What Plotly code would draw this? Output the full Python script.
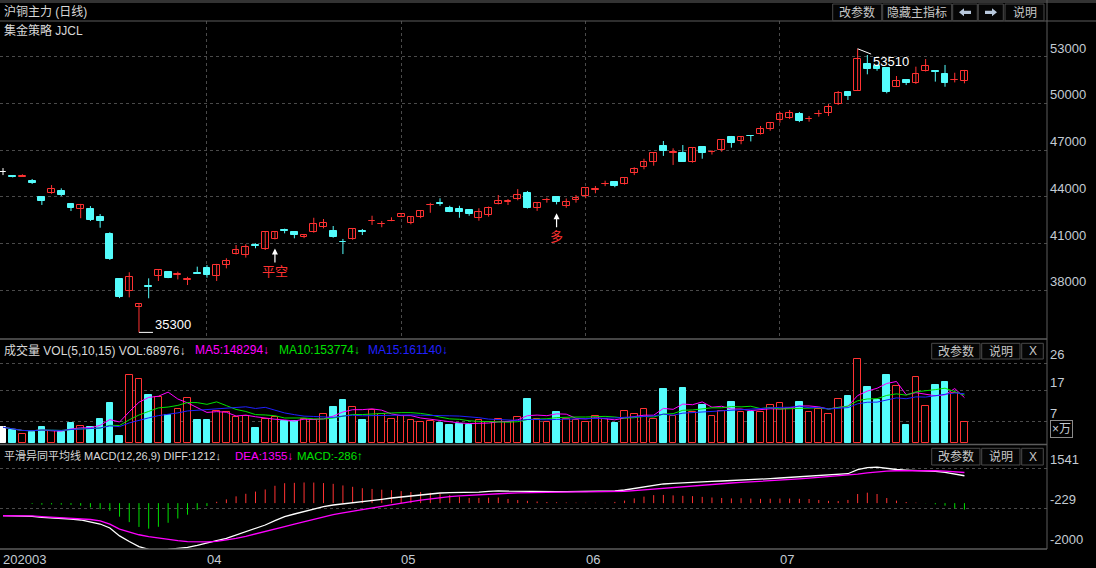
import plotly.graph_objects as go
import pandas as pd

W, H = 1096, 568
def px(x): return x / W
def py(y): return 1 - y / H

# ---------------- data ----------------
open_ = [45600,45360,45300,45010,43970,44230,44380,43540,43200,43200,
 42730,41620,38710,37980,36910,38250,38920,39180,39000,38650,
 39090,39420,38940,39630,40315,40270,40880,40640,41280,41880,
 41720,41405,41765,42067,41810,41130,41280,41800,42440,42230,
 42450,42730,42340,42730,43450,43600,43270,43240,43160,42625,
 42840,43540,43680,43850,44230,43270,43780,44000,43440,43800,
 44080,44450,44800,44970,44800,45510,45900,46260,47270,46830,
 46800,46260,47180,46880,47010,47830,47610,47900,48050,48360,
 48930,49045,49320,48980,49300,49370,49940,50750,50820,52530,
 52400,52250,51080,51500,51290,52100,52070,51890,51480,51460]
high = [45850,45400,45450,45150,44000,44760,44550,43600,43550,43410,
 42900,41730,38750,39160,37150,38770,39350,39200,39200,38870,
 39520,39620,39700,40060,40910,40960,41020,41800,41780,41960,
 41800,41600,42660,42580,42130,41300,42000,41940,42790,42450,
 42690,42950,42720,43120,43620,43910,43430,43430,43200,43270,
 43380,44120,43860,44500,44380,43650,43950,44010,43900,44120,
 44600,44700,45040,45000,45200,45900,46450,46850,47590,47120,
 47330,47200,47250,47000,47650,47910,47850,47920,48550,48800,
 49450,49580,49450,49190,49580,49960,50800,50800,53510,53110,
 52500,52280,51760,51530,52360,52850,52100,52470,51970,52150]
low = [45400,45250,45280,44830,43480,44200,44050,43090,42630,42450,
 42020,39950,37500,37550,35300,37490,38600,38780,38700,38340,
 39080,38810,38600,39410,40300,40100,40700,40590,41270,41660,
 41340,41350,41700,41980,41380,40330,41250,41550,42200,42050,
 42440,42700,42240,42630,42980,43430,43020,42660,42790,42470,
 42730,43520,43480,43780,43250,43100,43630,43520,43300,43630,
 43910,44230,44690,44620,44790,45400,45770,46000,46630,46050,
 46250,46200,46450,46720,46900,47160,47380,47560,48000,48250,
 48760,49000,48800,48830,49150,49190,49900,50220,50800,51870,
 52100,50650,51050,51180,51250,52050,51400,51070,51350,51290]
close = [45600,45300,45360,44910,43760,44500,44120,43310,43480,42520,
 42470,39990,37550,38880,37120,38230,39300,38810,39050,38700,
 39080,38990,39630,39880,40590,40760,40840,41760,41760,41800,
 41580,41550,42240,42320,41420,41100,41940,41760,42470,42250,
 42470,42900,42690,43090,43480,43560,43050,43050,42900,43050,
 43270,43750,43690,44120,43270,43630,43800,43650,43690,43950,
 44550,44480,44830,44690,45190,45790,46220,46800,46950,46860,
 46260,47120,46800,46900,47630,47480,47820,47880,48360,48760,
 49320,49400,48890,49000,49320,49760,50690,50500,52830,52190,
 52190,50710,51460,51330,51890,52400,51990,51290,51510,52100]
volume = [52000,43000,30000,38000,52000,40000,37000,65000,56000,54000,
 78000,132000,25000,222000,208000,156000,151000,92000,110000,146000,
 76000,76000,105000,100000,85000,90000,50000,80000,85000,73000,
 73000,80000,75000,95000,117000,140000,117000,76000,108000,95000,
 80000,90000,75000,70000,72000,65000,60000,63000,60000,75000,
 70000,80000,70000,85000,142000,80000,70000,100000,80000,75000,
 70000,90000,80000,65000,105000,95000,110000,80000,175000,90000,
 180000,100000,125000,90000,105000,135000,100000,100000,100000,125000,
 130000,115000,135000,100000,110000,95000,142000,153000,273000,183000,
 140000,220000,185000,59000,216000,120000,189000,200000,162000,68976]
diff = [-555,-555,-555,-584,-629,-643,-673,-702,-746,-820,
 -924,-1100,-1450,-1700,-1927,-2045,-2074,-2045,-2000,-1956,
 -1868,-1779,-1661,-1558,-1410,-1263,-1115,-968,-776,-599,
 -481,-363,-245,-156,-83,-39,6,50,109,168,
 227,271,316,375,419,448,463,463,463,490,
 520,545,530,520,515,510,507,507,507,507,
 507,507,507,537,581,655,729,802,847,876,
 906,935,950,965,979,994,1024,1038,1053,1083,
 1112,1142,1171,1201,1215,1230,1260,1301,1484,1571,
 1593,1532,1487,1464,1451,1436,1407,1363,1276,1212]
dea = [-558,-558,-555,-568,-595,-615,-640,-665,-690,-725,
 -790,-930,-1150,-1280,-1400,-1480,-1550,-1610,-1660,-1700,
 -1720,-1715,-1690,-1640,-1560,-1470,-1370,-1270,-1160,-1040,
 -930,-820,-700,-600,-510,-430,-355,-280,-205,-130,
 -60,5,70,130,190,240,285,320,350,375,
 398,420,438,452,464,474,482,488,493,496,
 498,500,502,510,525,550,585,625,665,705,
 745,780,812,840,865,890,915,937,958,985,
 1010,1040,1075,1110,1145,1180,1214,1231,1282,1340,
 1391,1419,1432,1439,1441,1440,1433,1419,1391,1355]

month_labels = ["202003", "04", "05", "06", "07"]
month_start = [0, 21, 41, 60, 80]
price_ticks = [53000, 50000, 47000, 44000, 41000, 38000]
vol_ticks = [26, 17, 7]
macd_ticks = [1541, -229, -2000]
low_mark_idx, high_mark_idx = 14, 88
signals = [(28, "平空"), (57, "多")]

# ---------------- styles ----------------
RED = "#ff3232"; CYAN = "#54fcfc"; WHITE = "#ffffff"
GREEN = "#00e000"; MAG = "#ff00ff"; BLUE = "#2020ff"
GRID = "#4a4a4a"; SEP = "#5c5c5c"; TXT = "#d8d8d8"; AX = "#c4ccd4"
FONT = "Liberation Sans, Noto Sans CJK SC, sans-serif"

n = len(close)
idx = list(range(n))
kind = ['up' if c > o else ('down' if c < o else 'flat') for o, c in zip(open_, close)]
col = {'up': RED, 'down': CYAN, 'flat': WHITE}
fill = {'up': '#000000', 'down': CYAN, 'flat': WHITE}

fig = go.Figure()

# candles
for k in ['up', 'down', 'flat']:
    ii = [i for i in idx if kind[i] == k]
    wx, wy = [], []
    for i in ii:
        wx += [i, i, None]; wy += [low[i], high[i], None]
    fig.add_trace(go.Scatter(x=wx, y=wy, mode='lines', line=dict(color=col[k], width=1),
                             hoverinfo='skip', xaxis='x', yaxis='y'))
    fig.add_trace(go.Bar(x=ii, y=[max(abs(close[i] - open_[i]), 25) for i in ii],
                         base=[min(open_[i], close[i]) for i in ii], width=0.7,
                         marker=dict(color=fill[k], line=dict(color=col[k], width=1)),
                         xaxis='x', yaxis='y'))

# volume
vol_w = [v / 10000 for v in volume]
for k in ['up', 'down', 'flat']:
    ii = [i for i in idx if kind[i] == k]
    fig.add_trace(go.Bar(x=ii, y=[vol_w[i] for i in ii], width=0.68,
                         marker=dict(color=fill[k], line=dict(color=col[k], width=1)),
                         xaxis='x2', yaxis='y2'))
vs = pd.Series(vol_w)
for win, c in [(5, MAG), (10, GREEN), (15, BLUE)]:
    fig.add_trace(go.Scatter(x=idx, y=vs.rolling(win, min_periods=1).mean(), mode='lines',
                             line=dict(color=c, width=1), xaxis='x2', yaxis='y2'))

# MACD
macd = [2 * (d - e) for d, e in zip(diff, dea)]
for sign, c in [(1, RED), (-1, GREEN)]:
    bx, by = [], []
    for i in idx:
        if macd[i] * sign > 0:
            bx += [i, i, None]; by += [0, macd[i], None]
    fig.add_trace(go.Scatter(x=bx, y=by, mode='lines', line=dict(color=c, width=1),
                             xaxis='x3', yaxis='y3'))
fig.add_trace(go.Scatter(x=idx, y=diff, mode='lines', line=dict(color=WHITE, width=1.3),
                         xaxis='x3', yaxis='y3'))
fig.add_trace(go.Scatter(x=idx, y=dea, mode='lines', line=dict(color=MAG, width=1.3),
                         xaxis='x3', yaxis='y3'))

xr = [-0.31, 107.5]
xdom = [0, px(1047)]
common_x = dict(range=xr, showticklabels=False, zeroline=False, showline=False, fixedrange=True)
def yax(dom, rng, ticks):
    return dict(domain=dom, range=rng, tickvals=ticks, showticklabels=False, showgrid=True,
                gridcolor=GRID, griddash='dot', gridwidth=1, zeroline=False, showline=False)

fig.update_layout(
    width=W, height=H, margin=dict(l=0, r=0, t=0, b=0),
    paper_bgcolor='#000000', plot_bgcolor='#000000', showlegend=False,
    barmode='overlay', hovermode=False, bargap=0,
    xaxis=dict(domain=xdom, anchor='y', tickvals=month_start[1:], showgrid=True,
               gridcolor=GRID, griddash='dot', **common_x),
    xaxis2=dict(domain=xdom, anchor='y2', showgrid=False, **common_x),
    xaxis3=dict(domain=xdom, anchor='y3', showgrid=False, **common_x),
    yaxis=dict(anchor='x', **yax([py(338), py(21)], [34940, 55292], price_ticks)),
    yaxis2=dict(anchor='x2', **yax([py(443.5), py(340)], [-0.06, 33.45], vol_ticks)),
    yaxis3=dict(anchor='x3', **yax([py(549), py(445.5)], [-2030, 2550], macd_ticks)),
)

shapes = []
ann = []
def pline(x0, y0, x1, y1, color=SEP, w=1):
    shapes.append(dict(type='line', xref='paper', yref='paper', x0=px(x0), y0=py(y0),
                       x1=px(x1), y1=py(y1), line=dict(color=color, width=w)))
def ptext(x, y, text, color=TXT, size=12, xanchor='left', **kw):
    ann.append(dict(xref='paper', yref='paper', x=px(x), y=py(y), text=text, showarrow=False,
                    xanchor=xanchor, yanchor='middle', font=dict(family=FONT, size=size, color=color), **kw))
def button(x0, x1, y0, y1, text):
    shapes.append(dict(type='rect', xref='paper', yref='paper', x0=px(x0), y0=py(y1),
                       x1=px(x1), y1=py(y0), line=dict(color='#4a4a4a', width=1), fillcolor='#050505'))
    if text:
        ptext((x0 + x1) / 2, (y0 + y1) / 2, text, color='#c8c8c8', size=12, xanchor='center')

# frame lines
shapes.append(dict(type='rect', xref='paper', yref='paper', x0=0, x1=1, y0=py(3), y1=1,
                   line=dict(width=0), fillcolor='#333333'))
pline(0, 21, W, 21)
pline(0, 339, 1047, 339, w=1.5)
pline(0, 444.5, 1047, 444.5, w=1.5)
pline(0, 549, 1047, 549, w=1.5)
pline(1047, 0, 1047, 549)

# headers
ptext(2, 11, "沪铜主力 (日线)", size=12)
ptext(2, 30, "集金策略 JJCL", size=12)
button(832.7, 881.7, 4, 20.7, "改参数")
button(882.7, 951.7, 4, 20.7, "隐藏主指标")
button(952.7, 977.3, 4, 20.7, "")
button(978.3, 1003.3, 4, 20.7, "")
button(1005, 1044, 4, 20.7, "说明")
def arrow_path(cx, cy, d):
    pts = [(cx - 6 * d, cy), (cx - 1 * d, cy - 4), (cx - 1 * d, cy - 1.6), (cx + 6 * d, cy - 1.6),
           (cx + 6 * d, cy + 1.6), (cx - 1 * d, cy + 1.6), (cx - 1 * d, cy + 4)]
    return "M " + " L ".join(f"{px(a):.5f},{py(b):.5f}" for a, b in pts) + " Z"
for cx, d in [(965, 1), (991, -1)]:
    shapes.append(dict(type='path', xref='paper', yref='paper', path=arrow_path(cx, 12.3, d),
                       fillcolor='#b8c8dc', line=dict(width=0)))

ptext(2, 350, "成交量 VOL(5,10,15) VOL:68976↓", size=12)
ptext(193, 350, "MA5:148294↓", color=MAG, size=12)
ptext(277, 350, "MA10:153774↓", color=GREEN, size=12)
ptext(366, 350, "MA15:161140↓", color=BLUE, size=12)
button(931.7, 980, 343.3, 359, "改参数")
button(981.7, 1020, 343.3, 359, "说明")
button(1021.7, 1043.3, 343.3, 359, "X")

ptext(2, 455.5, "平滑异同平均线 MACD(12,26,9) DIFF:1212↓", size=11)
ptext(233, 455.5, "DEA:1355↓", color=MAG, size=11.5)
ptext(295, 455.5, "MACD:-286↑", color=GREEN, size=11.5)
button(931.7, 980, 448.3, 465, "改参数")
button(981.7, 1020, 448.3, 465, "说明")
button(1021.7, 1043.3, 448.3, 465, "X")

# right axis labels
for yref, ticks in [('y', price_ticks), ('y2', vol_ticks), ('y3', macd_ticks)]:
    for t in ticks:
        ann.append(dict(xref='paper', yref=yref, x=px(1048), y=t, text=str(t), showarrow=False,
                        xanchor='left', yanchor='bottom', yshift=-1,
                        font=dict(family=FONT, size=13, color=AX)))
ann.append(dict(xref='paper', yref='paper', x=px(1061.5), y=py(429), text="×万", showarrow=False,
                xanchor='center', yanchor='middle', bordercolor='#8a8a8a', borderwidth=1, borderpad=1,
                font=dict(family=FONT, size=12, color=AX)))

# month labels
for lab, i in zip(month_labels, month_start):
    ann.append(dict(xref='x3', yref='paper', x=i, y=py(559), text=lab, showarrow=False,
                    xanchor='left', yanchor='middle', xshift=-2,
                    font=dict(family=FONT, size=13, color=AX)))

# high / low marks
shapes.append(dict(type='line', xref='x', yref='y', xsizemode='pixel', xanchor=low_mark_idx,
                   x0=0, x1=14, y0=low[low_mark_idx], y1=low[low_mark_idx],
                   line=dict(color=WHITE, width=1)))
ann.append(dict(xref='x', yref='y', x=low_mark_idx, y=low[low_mark_idx], text=str(low[low_mark_idx]),
                showarrow=False, xanchor='left', yanchor='middle', xshift=14, yshift=8,
                font=dict(family=FONT, size=13, color=WHITE)))
ann.append(dict(xref='x', yref='y', x=high_mark_idx, y=high[high_mark_idx], text=str(high[high_mark_idx]),
                showarrow=True, arrowhead=0, arrowwidth=1, arrowcolor=WHITE, ax=33, ay=13,
                font=dict(family=FONT, size=13, color=WHITE)))

# signals
for i, lab in signals:
    ann.append(dict(xref='x', yref='y', x=i, y=low[i], text=lab, showarrow=True,
                    arrowhead=2, arrowsize=1, arrowwidth=1.2, arrowcolor=WHITE,
                    ax=0, ay=32, standoff=9,
                    font=dict(family=FONT, size=13, color=RED)))

fig.update_layout(shapes=shapes, annotations=ann)
fig.write_html("out.html")
